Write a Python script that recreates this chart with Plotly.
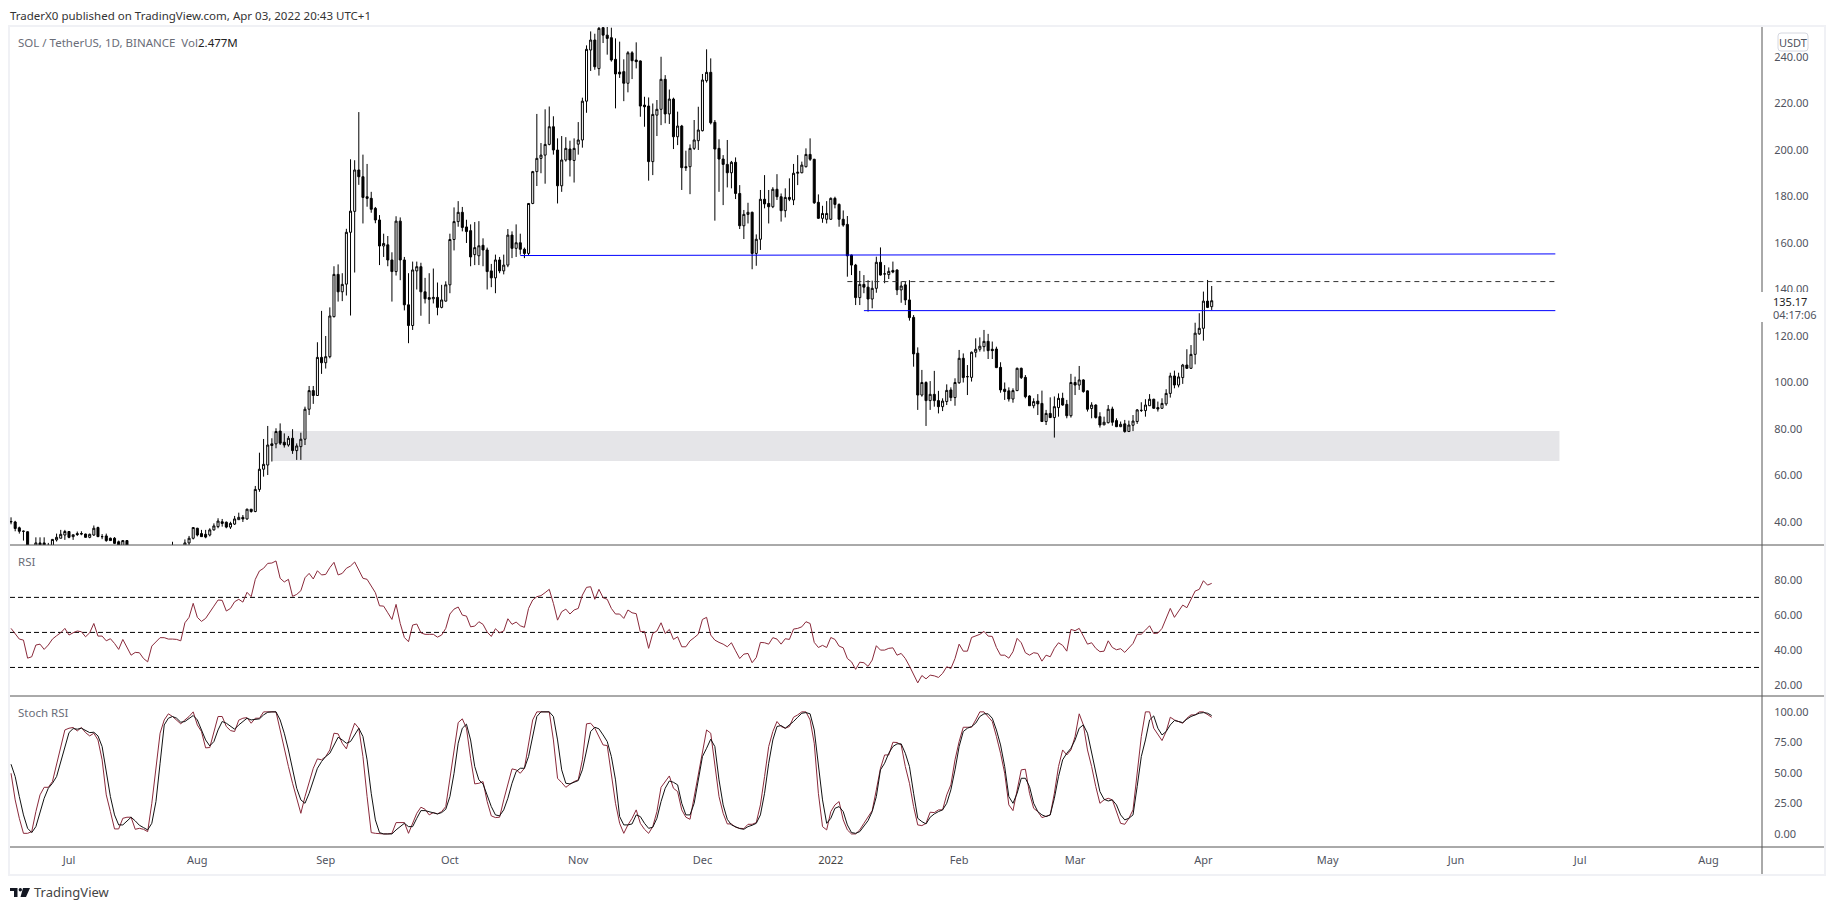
import pandas as pd
import plotly.graph_objects as go
from plotly.subplots import make_subplots

WIDTH = 1834
HEIGHT = 910

# Daily SOL/USDT candles (first bar is 2021-06-17)
start_date = '2021-06-17'

opens = [
    40.0, 40.0, 37.5, 36.0, 35.8, 28.0, 28.0, 31.0, 31.0, 30.0,
    29.0, 32.3, 33.0, 34.4, 35.9, 33.7, 35.0, 34.8, 34.8, 33.4,
    34.4, 37.6, 33.7, 34.0, 33.0, 33.0, 31.5, 29.5, 32.0, 28.0,
    26.5, 27.0, 26.0, 25.0, 26.0, 27.0, 26.5, 28.0, 28.5, 28.0,
    29.0, 27.5, 28.0, 31.0, 33.0, 37.3, 35.0, 34.7, 34.4, 36.6,
    38.0, 40.1, 39.9, 37.8, 39.1, 41.0, 42.0, 41.3, 45.5, 44.5,
    54.0, 62.7, 64.5, 73.6, 73.6, 79.1, 74.3, 73.1, 76.0, 70.7,
    72.4, 75.6, 88.5, 96.5, 94.4, 110.8, 108.5, 111.1, 128.3, 146.5,
    139.0, 142.3, 164.6, 173.6, 191.4, 188.5, 179.9, 179.2, 174.9, 169.9,
    158.7, 159.2, 152.7, 147.7, 169.4, 152.7, 133.4, 124.5, 148.0, 149.8,
    139.0, 136.5, 136.0, 136.6, 132.3, 135.0, 142.0, 161.5, 169.2, 173.2,
    166.9, 165.3, 155.0, 154.5, 159.0, 157.0, 148.0, 145.0, 152.7, 148.0,
    150.5, 163.4, 157.7, 160.1, 157.3, 155.5, 177.0, 190.7, 196.4, 197.8,
    202.4, 210.0, 200.0, 184.6, 195.7, 200.4, 195.5, 202.5, 204.3, 221.0,
    243.0, 247.3, 235.0, 252.6, 249.4, 248.3, 239.0, 233.5, 233.7, 228.7,
    241.8, 238.7, 238.3, 219.3, 218.9, 195.0, 215.0, 217.5, 230.4, 215.5,
    221.9, 205.7, 210.3, 192.8, 192.8, 200.7, 204.0, 208.3, 229.8, 233.4,
    211.9, 200.7, 196.1, 193.8, 190.2, 194.7, 181.3, 167.4, 172.3, 173.2,
    155.5, 161.6, 178.8, 177.0, 175.6, 183.1, 179.9, 173.9, 179.6, 178.5,
    190.0, 190.2, 192.8, 198.1, 196.0, 177.5, 170.6, 170.2, 170.2, 179.2,
    176.6, 170.2, 168.0, 154.8, 150.5, 136.5, 142.2, 141.0, 135.9, 140.5,
    151.7, 146.7, 146.4, 148.2, 148.4, 139.8, 142.0, 135.5, 128.0, 112.6,
    94.6, 100.0, 92.2, 94.9, 92.2, 89.6, 91.8, 96.8, 93.5, 99.9,
    110.4, 102.5, 102.2, 113.0, 114.3, 115.4, 117.7, 114.3, 114.4, 106.5,
    97.1, 96.4, 92.9, 96.5, 106.1, 102.2, 94.2, 90.0, 92.0, 91.0,
    83.2, 86.7, 84.9, 89.2, 93.2, 90.6, 85.7, 100.0, 98.9, 101.1,
    96.4, 88.8, 90.3, 85.3, 81.8, 82.7, 88.6, 83.6, 81.0, 82.2,
    78.9, 81.6, 83.2, 88.0, 87.9, 90.0, 92.8, 89.2, 88.9, 90.8,
    95.3, 102.8, 98.9, 102.1, 107.5, 106.1, 112.1, 120.9, 123.3, 135.0,
    132.6,
]
highs = [
    42.0, 40.5, 38.0, 36.3, 36.0, 29.7, 33.4, 33.4, 33.4, 31.0,
    32.7, 35.0, 36.6, 36.6, 36.0, 34.6, 35.9, 36.0, 35.0, 35.0,
    38.5, 38.0, 34.8, 35.0, 33.3, 33.5, 32.0, 32.2, 32.2, 28.5,
    27.5, 28.0, 27.0, 26.5, 27.5, 28.0, 28.5, 29.0, 29.5, 31.5,
    29.8, 29.0, 32.5, 34.0, 37.7, 37.5, 36.6, 36.6, 37.3, 39.4,
    41.6, 41.3, 40.2, 40.1, 42.6, 44.0, 43.0, 45.7, 45.5, 55.5,
    69.8, 75.7, 81.3, 76.0, 80.3, 82.4, 78.1, 77.0, 79.9, 73.8,
    78.4, 89.6, 98.5, 98.5, 117.3, 130.8, 120.0, 132.3, 150.0, 150.8,
    147.0, 166.1, 196.0, 195.6, 216.3, 198.0, 194.0, 182.0, 175.5, 172.0,
    164.0, 163.0, 156.0, 171.5, 171.0, 154.0, 147.0, 152.0, 152.0, 151.5,
    145.0, 147.0, 149.0, 143.0, 142.0, 143.5, 164.0, 175.3, 178.0, 175.5,
    170.0, 168.0, 169.0, 169.4, 162.0, 158.0, 151.0, 155.0, 154.0, 155.0,
    166.0, 165.0, 168.0, 164.0, 158.0, 177.2, 191.0, 215.5, 203.0, 217.5,
    218.7, 214.5, 205.0, 206.0, 205.5, 204.0, 205.0, 212.0, 222.5, 245.0,
    251.0, 250.0, 255.0, 256.0, 254.0, 252.6, 248.0, 246.6, 239.0, 242.5,
    242.5, 246.3, 238.5, 222.9, 222.6, 220.0, 221.5, 240.1, 232.2, 226.0,
    222.5, 216.5, 210.8, 199.7, 202.4, 212.9, 218.6, 232.7, 243.3, 239.4,
    212.9, 204.6, 197.8, 204.3, 195.3, 196.8, 184.9, 174.2, 177.3, 173.5,
    163.7, 182.8, 189.2, 182.8, 184.0, 189.6, 181.3, 183.5, 187.8, 194.0,
    197.8, 195.0, 200.7, 205.0, 196.2, 180.9, 176.0, 178.0, 179.6, 179.9,
    177.0, 174.0, 171.6, 155.0, 151.0, 148.0, 146.2, 144.0, 143.8, 154.1,
    158.1, 150.5, 149.5, 152.0, 148.6, 143.4, 143.4, 144.0, 129.0, 115.1,
    105.4, 100.5, 100.6, 105.0, 96.4, 93.2, 99.2, 97.9, 101.8, 114.0,
    112.5, 107.5, 113.3, 119.0, 119.4, 122.6, 120.9, 117.6, 115.4, 108.7,
    100.0, 97.9, 97.5, 106.4, 106.4, 103.2, 94.5, 93.2, 95.0, 96.5,
    88.2, 93.6, 94.0, 95.3, 95.6, 92.5, 103.7, 102.5, 107.1, 101.4,
    96.6, 91.5, 90.6, 87.2, 85.3, 90.3, 89.6, 84.6, 83.2, 83.9,
    83.6, 86.0, 88.6, 91.5, 92.8, 95.0, 93.0, 91.8, 93.2, 97.1,
    104.2, 105.1, 104.2, 108.0, 114.3, 116.1, 125.7, 129.8, 139.1, 144.1,
    141.5,
]
lows = [
    39.0, 36.0, 35.0, 32.0, 27.0, 27.0, 27.5, 28.0, 27.5, 28.0,
    28.0, 31.6, 33.0, 32.3, 33.0, 32.3, 34.0, 34.3, 33.3, 33.0,
    34.0, 33.5, 32.6, 31.5, 32.0, 30.5, 29.0, 28.0, 27.0, 26.0,
    25.5, 25.5, 24.5, 24.0, 25.5, 26.0, 26.0, 27.0, 27.5, 27.5,
    27.0, 26.5, 27.0, 30.0, 32.5, 33.8, 33.6, 33.0, 33.8, 36.3,
    37.3, 38.0, 37.3, 37.0, 38.7, 41.0, 40.0, 41.0, 44.0, 44.2,
    53.0, 59.5, 60.2, 66.0, 71.7, 73.1, 72.0, 72.4, 69.3, 66.7,
    66.7, 73.1, 86.0, 90.8, 94.2, 103.7, 106.0, 110.4, 128.0, 134.8,
    135.0, 137.4, 128.8, 147.3, 185.0, 168.4, 175.6, 173.0, 168.5, 150.5,
    154.0, 150.0, 134.8, 146.0, 144.0, 131.0, 116.9, 122.6, 140.0, 128.7,
    134.0, 125.2, 134.0, 128.9, 131.9, 134.8, 138.4, 156.8, 167.0, 165.0,
    160.0, 150.0, 150.5, 150.5, 150.0, 140.0, 141.0, 138.4, 147.0, 146.5,
    149.6, 153.5, 154.0, 155.0, 153.5, 154.5, 176.7, 184.5, 190.0, 185.5,
    202.0, 198.0, 177.0, 182.0, 195.0, 188.6, 186.0, 198.0, 201.0, 216.0,
    234.0, 234.5, 232.0, 246.0, 241.0, 238.0, 217.9, 231.0, 221.0, 224.8,
    230.5, 235.1, 214.3, 210.0, 186.8, 189.2, 206.0, 210.7, 211.5, 211.2,
    200.4, 202.1, 182.8, 191.0, 181.0, 200.0, 200.0, 208.0, 229.0, 211.0,
    169.6, 182.0, 176.3, 183.9, 183.5, 178.9, 166.0, 161.7, 168.4, 148.7,
    150.2, 157.0, 174.9, 168.4, 175.0, 178.5, 169.2, 171.0, 178.0, 176.3,
    184.9, 190.0, 192.5, 195.3, 176.8, 170.4, 168.7, 168.4, 169.9, 174.9,
    167.0, 167.0, 145.5, 146.2, 133.3, 133.3, 138.4, 130.5, 131.9, 138.6,
    146.0, 142.7, 144.5, 147.0, 137.6, 134.3, 133.3, 126.6, 106.8, 88.2,
    93.9, 81.3, 88.2, 89.6, 86.7, 87.7, 90.3, 92.0, 90.0, 99.4,
    100.0, 94.6, 100.4, 110.8, 113.3, 113.3, 110.1, 110.1, 106.2, 95.6,
    92.5, 91.8, 91.3, 96.3, 101.5, 93.2, 90.0, 88.9, 86.0, 83.0,
    81.7, 84.7, 76.3, 85.3, 90.0, 84.6, 84.9, 94.6, 96.8, 95.6,
    87.5, 84.6, 84.5, 80.6, 81.6, 82.4, 81.4, 80.8, 80.8, 78.4,
    78.7, 79.1, 82.2, 87.3, 85.3, 89.9, 88.7, 87.5, 88.7, 90.0,
    93.5, 97.5, 97.9, 99.4, 105.8, 105.9, 107.8, 120.5, 118.0, 132.0,
    131.2,
]
closes = [
    40.2, 37.2, 36.0, 36.0, 28.0, 29.0, 31.0, 29.0, 28.0, 29.5,
    32.5, 33.4, 34.7, 35.9, 33.4, 34.5, 34.6, 35.0, 33.4, 34.7,
    37.3, 33.7, 33.7, 32.0, 32.0, 30.8, 29.5, 32.0, 28.0, 26.5,
    27.0, 26.0, 25.0, 26.0, 27.0, 26.5, 28.0, 28.5, 28.0, 29.0,
    27.5, 28.0, 31.0, 33.0, 37.6, 34.4, 33.7, 33.5, 36.6, 38.3,
    40.4, 39.4, 37.8, 39.4, 41.3, 42.0, 41.3, 45.5, 44.5, 54.0,
    62.7, 64.8, 73.1, 72.9, 78.9, 73.9, 73.1, 76.0, 70.7, 72.7,
    75.6, 88.5, 96.5, 94.4, 110.8, 108.5, 111.1, 128.6, 146.5, 139.0,
    142.2, 164.6, 173.7, 191.4, 188.5, 179.6, 179.2, 174.5, 169.9, 158.7,
    159.8, 152.7, 147.7, 169.4, 152.7, 133.4, 124.5, 148.4, 149.8, 139.0,
    136.0, 135.8, 136.6, 132.3, 135.5, 142.0, 161.5, 169.2, 173.2, 166.7,
    164.9, 154.0, 158.0, 158.8, 157.0, 147.7, 145.0, 152.7, 148.0, 150.5,
    163.4, 157.7, 160.1, 157.3, 155.5, 177.0, 190.7, 196.4, 197.8, 202.4,
    210.0, 200.0, 184.6, 195.7, 200.7, 195.7, 200.7, 204.3, 221.0, 243.3,
    247.3, 235.8, 252.3, 249.4, 248.0, 238.7, 232.7, 232.7, 228.7, 241.8,
    238.4, 238.0, 218.9, 218.6, 195.0, 215.3, 217.5, 230.4, 215.5, 221.9,
    205.7, 210.3, 192.4, 192.4, 200.7, 204.3, 208.6, 230.1, 233.4, 211.7,
    200.4, 196.1, 193.8, 190.2, 194.7, 181.3, 167.4, 172.3, 173.2, 155.5,
    161.6, 178.8, 176.8, 175.6, 183.1, 179.9, 173.9, 179.6, 178.8, 190.0,
    190.4, 193.5, 198.1, 196.0, 177.3, 170.6, 172.7, 172.7, 179.2, 176.6,
    170.2, 167.7, 154.5, 150.5, 136.5, 142.2, 141.0, 135.9, 140.5, 151.7,
    146.2, 146.7, 147.8, 147.5, 139.8, 141.5, 135.5, 127.9, 112.3, 94.6,
    100.0, 92.2, 94.9, 92.2, 89.6, 92.0, 96.6, 93.5, 100.0, 110.4,
    102.1, 102.5, 113.0, 114.3, 115.6, 117.7, 113.7, 113.7, 106.4, 96.8,
    96.1, 92.9, 96.5, 106.1, 102.1, 93.9, 90.0, 91.8, 90.8, 83.2,
    86.7, 84.9, 89.6, 93.2, 90.3, 85.7, 100.0, 98.9, 101.1, 96.1,
    88.5, 90.3, 84.9, 81.7, 82.9, 88.5, 82.9, 81.0, 82.0, 78.9,
    81.7, 83.4, 88.2, 88.0, 90.3, 92.8, 88.9, 88.6, 91.0, 95.3,
    102.8, 98.9, 102.4, 107.5, 106.1, 112.1, 121.2, 123.3, 135.0, 132.3,
    135.17,
]

rsi = [
    52.3, 48.9, 46.2, 45.6, 35.3, 36.1, 42.8, 43.3, 40.3, 42.8,
    46.2, 48.1, 49.8, 52.3, 48.5, 49.8, 50.8, 50.4, 47.5, 49.8,
    55.1, 47.9, 47.9, 45.2, 46.4, 43.7, 40.3, 46.0, 41.4, 37.0,
    38.6, 38.4, 35.1, 33.2, 42.2, 44.7, 47.0, 47.0, 46.2, 46.2,
    46.0, 45.2, 55.5, 58.6, 66.6, 58.6, 56.3, 58.0, 61.8, 65.0,
    68.5, 68.3, 62.2, 63.7, 67.5, 68.9, 67.3, 72.9, 70.4, 80.3,
    85.1, 86.6, 89.4, 89.6, 90.8, 80.9, 78.8, 80.3, 70.6, 71.7,
    73.8, 81.2, 83.7, 80.5, 85.2, 82.8, 83.1, 87.0, 90.0, 82.8,
    83.7, 86.6, 87.9, 90.2, 85.6, 80.9, 80.3, 76.1, 72.7, 65.2,
    65.0, 61.2, 57.4, 66.0, 55.1, 47.1, 44.7, 54.2, 54.8, 49.8,
    48.9, 48.9, 48.9, 47.3, 48.5, 52.3, 60.5, 63.3, 64.5, 59.9,
    59.3, 53.2, 53.6, 56.1, 54.6, 50.2, 47.7, 52.1, 49.8, 50.8,
    57.8, 54.6, 55.9, 53.8, 52.9, 63.7, 68.5, 70.4, 71.0, 72.7,
    74.6, 66.6, 57.0, 61.8, 63.3, 60.5, 62.8, 63.7, 71.3, 75.7,
    76.1, 68.9, 74.6, 69.8, 68.9, 63.7, 60.5, 60.5, 58.0, 62.8,
    61.2, 60.7, 50.4, 50.6, 40.9, 49.4, 50.8, 55.5, 49.4, 51.7,
    46.0, 47.5, 41.8, 41.8, 45.2, 47.0, 49.0, 57.4, 58.6, 48.5,
    45.6, 44.3, 43.3, 41.8, 44.1, 39.5, 35.1, 37.6, 38.0, 32.7,
    35.7, 44.3, 44.1, 43.3, 47.0, 46.2, 43.3, 46.4, 46.0, 51.9,
    52.3, 53.2, 56.1, 55.1, 44.3, 41.4, 42.6, 41.4, 47.1, 46.0,
    42.2, 41.2, 35.1, 33.2, 28.9, 33.0, 32.7, 30.6, 34.2, 42.4,
    39.9, 39.9, 40.9, 41.2, 37.0, 38.0, 35.1, 30.8, 25.6, 21.2,
    25.4, 23.5, 25.6, 25.2, 24.3, 26.6, 30.4, 29.4, 35.1, 43.3,
    39.3, 39.3, 47.1, 47.9, 48.9, 50.6, 47.9, 47.7, 41.4, 37.0,
    37.0, 35.3, 39.0, 46.6, 44.1, 38.4, 37.0, 38.4, 38.0, 33.6,
    37.0, 36.1, 40.9, 44.1, 42.6, 39.3, 51.7, 51.0, 52.3, 47.9,
    43.3, 44.1, 40.9, 39.0, 39.3, 45.2, 41.4, 40.1, 40.7, 38.6,
    41.4, 43.7, 48.9, 49.0, 51.3, 53.8, 49.4, 49.6, 52.3, 58.0,
    63.7, 58.6, 61.8, 65.6, 64.1, 68.9, 73.6, 74.6, 79.5, 77.0,
    78.0,
]

stoch_k = [
    49.7, 27.9, 12.8, 0.5, 0.5, 1.9, 18.3, 32.0, 38.2, 38.2,
    42.9, 56.6, 71.6, 85.2, 86.6, 87.2, 84.4, 87.2, 83.0, 80.3,
    82.5, 77.0, 60.7, 32.0, 18.3, 4.1, 4.1, 12.8, 13.7, 13.7,
    3.8, 4.6, 3.8, 1.9, 25.1, 52.5, 82.5, 93.4, 98.4, 96.2,
    93.4, 90.2, 93.4, 96.2, 100.0, 89.3, 83.9, 70.5, 70.8, 82.5,
    96.2, 96.2, 88.0, 84.7, 83.9, 93.2, 94.8, 95.3, 90.7, 94.8,
    94.8, 100.0, 100.0, 100.0, 100.0, 85.2, 68.8, 55.2, 41.5, 29.2,
    16.9, 30.6, 42.9, 53.8, 61.5, 60.7, 63.4, 68.8, 82.5, 82.0,
    74.3, 69.7, 81.1, 90.7, 86.6, 63.4, 30.6, 1.1, 0.5, 0.0,
    0.0, 0.0, 0.5, 9.3, 9.3, 9.3, 0.5, 8.7, 16.9, 21.9,
    20.2, 15.6, 17.5, 16.4, 18.3, 22.4, 44.3, 66.1, 91.2, 94.3,
    86.6, 62.0, 41.0, 41.5, 42.9, 26.5, 14.8, 13.4, 13.7, 27.9,
    40.2, 53.3, 52.5, 49.7, 53.8, 72.9, 93.4, 100.0, 100.0, 100.0,
    100.0, 77.0, 45.6, 42.1, 38.2, 40.7, 42.9, 44.3, 60.7, 90.2,
    90.7, 86.6, 79.8, 72.9, 72.4, 49.7, 25.1, 8.7, 0.5, 7.4,
    12.8, 19.7, 8.7, 3.8, 0.5, 6.0, 18.3, 38.2, 42.9, 47.5,
    37.4, 34.7, 19.7, 13.7, 12.0, 30.6, 49.7, 66.1, 85.2, 82.5,
    55.2, 30.6, 16.9, 8.2, 8.2, 5.5, 4.6, 4.4, 7.9, 7.9,
    9.3, 23.8, 47.0, 71.6, 83.9, 92.1, 88.0, 86.6, 88.0, 95.6,
    97.5, 100.0, 100.0, 93.4, 74.3, 33.3, 6.0, 3.3, 18.3, 23.8,
    26.5, 11.5, 3.3, 0.0, 0.0, 3.3, 8.7, 13.7, 19.1, 36.1,
    53.8, 64.7, 64.7, 75.1, 74.9, 72.9, 55.2, 41.5, 22.4, 7.4,
    6.8, 8.7, 17.8, 17.5, 19.7, 19.7, 32.0, 40.2, 60.7, 75.7,
    87.4, 87.4, 87.4, 93.4, 100.0, 100.0, 96.2, 92.1, 79.8, 66.1,
    49.7, 23.8, 19.1, 36.1, 52.5, 53.0, 33.3, 21.0, 18.3, 13.4,
    14.8, 15.6, 33.3, 55.2, 68.8, 64.7, 68.8, 79.8, 98.4, 89.3,
    68.8, 55.2, 38.8, 25.1, 27.9, 29.2, 27.9, 18.3, 8.7, 7.9,
    12.8, 19.7, 49.7, 79.8, 100.0, 100.0, 86.6, 81.1, 76.5, 83.9,
    95.6, 93.4, 92.1, 90.7, 94.8, 97.5, 97.5, 100.0, 100.0, 97.5,
    95.6,
]

stoch_d = [
    57.1, 47.0, 30.6, 15.6, 4.6, 1.1, 6.0, 18.3, 29.2, 37.4,
    41.5, 47.0, 59.3, 72.9, 83.0, 86.3, 85.8, 86.6, 84.7, 83.0,
    83.3, 80.3, 71.6, 52.5, 30.6, 15.6, 7.4, 7.4, 10.9, 13.7,
    10.7, 7.1, 5.2, 3.3, 8.7, 26.5, 57.9, 89.3, 94.8, 96.2,
    94.8, 91.5, 92.1, 94.3, 97.0, 93.4, 85.2, 77.0, 72.1, 75.7,
    85.2, 92.1, 90.7, 88.5, 85.8, 89.3, 92.1, 94.8, 93.4, 94.0,
    94.3, 97.5, 99.7, 100.0, 100.0, 93.4, 82.5, 68.8, 52.5, 37.4,
    27.9, 25.1, 33.3, 44.3, 53.8, 59.3, 63.4, 66.1, 72.9, 79.2,
    77.0, 74.3, 75.7, 81.1, 86.6, 79.8, 60.7, 33.3, 11.5, 1.1,
    0.0, 0.0, 0.0, 3.3, 6.0, 8.7, 6.0, 6.0, 12.8, 19.1,
    19.1, 18.0, 16.9, 16.4, 17.5, 20.2, 30.6, 49.7, 74.3, 86.6,
    89.9, 77.0, 55.2, 44.3, 41.0, 32.0, 22.4, 15.6, 14.8, 19.7,
    29.2, 41.5, 51.1, 53.8, 53.8, 63.4, 81.1, 96.2, 100.0, 100.0,
    100.0, 96.2, 77.0, 52.5, 41.5, 41.0, 42.1, 43.7, 52.5, 68.8,
    83.9, 87.4, 86.1, 81.1, 75.7, 63.4, 44.3, 14.2, 7.4, 7.4,
    8.2, 15.6, 14.2, 8.7, 4.6, 5.5, 12.8, 26.5, 37.4, 43.4,
    42.3, 40.2, 25.1, 15.6, 15.6, 25.1, 44.3, 63.4, 70.2, 77.6,
    71.6, 44.3, 23.8, 12.0, 7.4, 6.0, 4.4, 3.8, 6.0, 7.1,
    8.7, 15.6, 33.3, 57.9, 77.0, 88.0, 88.8, 86.6, 89.3, 92.1,
    95.6, 98.9, 99.4, 98.4, 85.2, 55.2, 27.9, 8.7, 12.8, 21.0,
    22.4, 18.3, 7.4, 1.1, 0.5, 1.9, 6.0, 10.9, 18.3, 30.6,
    52.5, 57.9, 66.1, 71.6, 73.8, 73.8, 66.1, 55.2, 33.3, 12.8,
    10.1, 8.2, 13.7, 16.4, 18.3, 19.7, 25.1, 36.1, 52.5, 71.6,
    83.9, 86.6, 88.0, 90.7, 96.2, 98.4, 98.4, 94.8, 85.2, 72.9,
    55.2, 30.6, 25.1, 33.3, 45.6, 45.6, 38.8, 25.1, 18.3, 15.6,
    14.2, 15.6, 29.2, 47.0, 60.7, 66.1, 70.2, 77.0, 86.6, 89.3,
    82.5, 66.1, 49.7, 34.7, 28.4, 27.0, 27.9, 23.8, 15.6, 11.5,
    12.8, 15.6, 38.8, 63.4, 77.0, 93.4, 96.7, 86.6, 81.1, 83.9,
    89.3, 92.9, 92.1, 91.2, 94.0, 96.2, 97.5, 98.9, 99.4, 98.9,
    97.0,
]

# tick labels
month_dates = ['2021-07-01', '2021-08-01', '2021-09-01', '2021-10-01', '2021-11-01', '2021-12-01',
               '2022-01-01', '2022-02-01', '2022-03-01', '2022-04-01', '2022-05-01', '2022-06-01',
               '2022-07-01', '2022-08-01']
month_labels = ['Jul', 'Aug', 'Sep', 'Oct', 'Nov', 'Dec', '<span style="color:#444">2022</span>',
                'Feb', 'Mar', 'Apr', 'May', 'Jun', 'Jul', 'Aug']
price_ticks = [40, 60, 80, 100, 120, 140, 160, 180, 200, 220, 240]
rsi_ticks = [20, 40, 60, 80]
stoch_ticks = [0, 25, 50, 75, 100]
rsi_levels = [30, 50, 70]

# drawings on the price pane
upper_dates = ['2021-10-18', '2022-06-25']
upper_values = [154.6, 155.3]
lower_dates = ['2022-01-09', '2022-06-25']
lower_values = [130.9, 130.9]
dashed_dates = ['2022-01-05', '2022-06-25']
dashed_values = [143.4, 143.4]
zone_dates = ['2021-08-19', '2022-06-26']
zone_values = [66.2, 79.1]

FONT = 'Noto Sans'
RED = '#8a2a3b'
GREY = '#50535e'
LINE = '#555555'
BLUE = '#0000ff'


def px(x):
    return x / WIDTH


def py(y):
    return 1 - y / HEIGHT


dates = pd.date_range(start_date, periods=len(closes), freq='D')

fig = make_subplots(rows=3, cols=1, shared_xaxes=True, vertical_spacing=0)

fig.add_trace(go.Candlestick(
    x=dates, open=opens, high=highs, low=lows, close=closes,
    increasing=dict(fillcolor='#ffffff', line=dict(color='#000000', width=1)),
    decreasing=dict(fillcolor='#000000', line=dict(color='#000000', width=1)),
    whiskerwidth=0, hoverinfo='skip'), row=1, col=1)

for d, v, dash, color in [(upper_dates, upper_values, 'solid', BLUE),
                          (lower_dates, lower_values, 'solid', BLUE),
                          (dashed_dates, dashed_values, '5px,4px', '#333333')]:
    fig.add_trace(go.Scatter(x=d, y=v, mode='lines', line=dict(color=color, width=1, dash=dash),
                             hoverinfo='skip'), row=1, col=1)

fig.add_trace(go.Scatter(x=dates, y=rsi, mode='lines', line=dict(color=RED, width=1), hoverinfo='skip'), row=2, col=1)
fig.add_trace(go.Scatter(x=dates, y=stoch_k, mode='lines', line=dict(color=RED, width=1), hoverinfo='skip'), row=3, col=1)
fig.add_trace(go.Scatter(x=dates, y=stoch_d, mode='lines', line=dict(color='#111111', width=1), hoverinfo='skip'), row=3, col=1)

fig.update_layout(
    width=WIDTH, height=HEIGHT, margin=dict(l=0, r=0, t=0, b=0),
    paper_bgcolor='#ffffff', plot_bgcolor='#ffffff', showlegend=False,
    font=dict(family=FONT, size=11, color=GREY), hovermode=False,
)

x_range = ['2021-06-16 18:00', '2022-08-13 22:00']
x_domain = [px(10), px(1762)]
fig.update_xaxes(range=x_range, domain=x_domain, showgrid=False, zeroline=False, showline=False,
                 rangeslider_visible=False, ticks='')
fig.update_xaxes(tickmode='array', tickvals=month_dates, ticktext=month_labels, ticks='outside',
                 ticklen=3, tickcolor='rgba(0,0,0,0)', tickfont=dict(family=FONT, size=11, color=GREY), row=3, col=1)

y_style = dict(side='right', showgrid=False, zeroline=False, showline=False, ticks='outside', ticklen=9,
               tickcolor='rgba(0,0,0,0)', tickformat='.2f', tickmode='array',
               tickfont=dict(family=FONT, size=11, color=GREY))
fig.update_yaxes(range=[30.1, 252.9], domain=[py(545), py(27)], tickvals=price_ticks, row=1, col=1, **y_style)
fig.update_yaxes(range=[13.7, 99.9], domain=[py(696), py(545)], tickvals=rsi_ticks, row=2, col=1, **y_style)
fig.update_yaxes(range=[-10.7, 113], domain=[py(847), py(696)], tickvals=stoch_ticks, row=3, col=1, **y_style)

# support zone under the candles
fig.add_shape(type='rect', xref='x', yref='y', x0=zone_dates[0], x1=zone_dates[1], y0=zone_values[0], y1=zone_values[1],
              fillcolor='#e5e5e8', line_width=0, layer='below')

# RSI bands
for lvl in rsi_levels:
    fig.add_shape(type='line', xref='x2 domain', yref='y2', x0=0, x1=1, y0=lvl, y1=lvl,
                  line=dict(color='#000000', width=1, dash='5px,3px'), layer='below')

# outer frame, pane separators and the price scale border
fig.add_shape(type='rect', xref='paper', yref='paper', x0=px(9), x1=px(1825), y0=py(875), y1=py(26),
              line=dict(color='#f0f1f5', width=2), layer='below')
for y in [545, 696, 847]:
    fig.add_shape(type='line', xref='paper', yref='paper', x0=px(10), x1=px(1824), y0=py(y), y1=py(y),
                  line=dict(color=LINE, width=1))
fig.add_shape(type='line', xref='paper', yref='paper', x0=px(1762), x1=px(1762), y0=py(874), y1=py(27),
              line=dict(color=LINE, width=1))

# last price label block hides the scale behind it
fig.add_shape(type='rect', xref='paper', yref='paper', x0=px(1761), x1=px(1823), y0=py(322), y1=py(292),
              fillcolor='#ffffff', line_width=0)

# USDT button, rounded corners
button = (f'M {px(1781)} {py(33)} L {px(1805)} {py(33)} Q {px(1808)} {py(33)} {px(1808)} {py(36)} '
          f'L {px(1808)} {py(48)} Q {px(1808)} {py(51)} {px(1805)} {py(51)} '
          f'L {px(1781)} {py(51)} Q {px(1778)} {py(51)} {px(1778)} {py(48)} '
          f'L {px(1778)} {py(36)} Q {px(1778)} {py(33)} {px(1781)} {py(33)} Z')
fig.add_shape(type='path', xref='paper', yref='paper', path=button, fillcolor='#ffffff',
              line=dict(color='#d6d8e0', width=1))

# TradingView mark
logo = (f'M {px(10)} {py(888)} L {px(17.5)} {py(888)} L {px(17.5)} {py(897)} L {px(14)} {py(897)} '
        f'L {px(14)} {py(891)} L {px(10)} {py(891)} Z '
        f'M {px(23)} {py(888)} L {px(30)} {py(888)} L {px(26)} {py(897)} L {px(20.5)} {py(897)} Z')
fig.add_shape(type='path', xref='paper', yref='paper', path=logo, fillcolor='#131722', line_width=0)
fig.add_shape(type='circle', xref='paper', yref='paper', x0=px(18.6), x1=px(22), y0=py(891.4), y1=py(888),
              fillcolor='#131722', line_width=0)


def label(x, y, text, size=11, color=GREY, anchor='left'):
    fig.add_annotation(xref='paper', yref='paper', x=px(x), y=py(y), text=text, showarrow=False,
                       xanchor=anchor, yanchor='middle', borderpad=0,
                       font=dict(family=FONT, size=size, color=color))


label(9, 15, 'TraderX0 published on TradingView.com, Apr 03, 2022 20:43 UTC+1', 11.5, '#333333')
label(17, 42, 'SOL / TetherUS, 1D, BINANCE\u00a0\u00a0Vol<span style="color:#222222">2.477M</span>', 11.5, '#6a6d78')
label(17, 561, 'RSI', 11.5, '#6a6d78')
label(17, 712, 'Stoch RSI', 11.5, '#6a6d78')
label(1793, 42, 'USDT', 11, GREY, 'center')
label(1772, 302, '135.17', 11, '#222222')
label(1772, 314, '04:17:06', 11, GREY)
label(33, 892, 'TradingView', 13, '#444444')

fig.write_html('out.html', config={'displayModeBar': False},
               post_script="document.body.style.margin='0';document.body.style.overflow='hidden';")
